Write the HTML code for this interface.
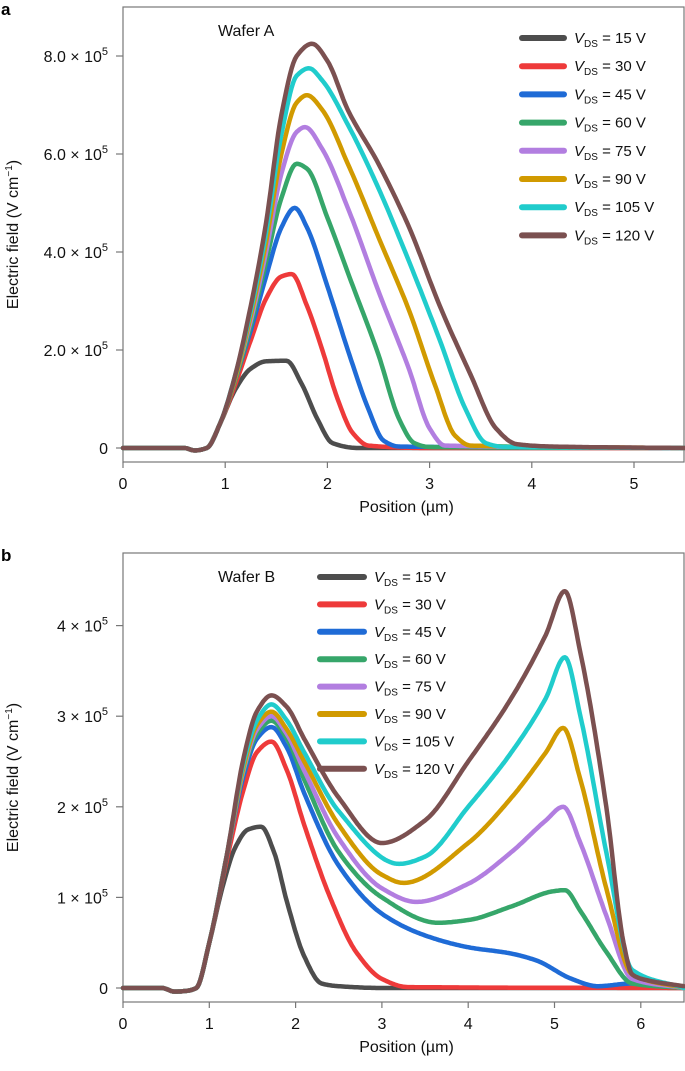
<!DOCTYPE html>
<html><head><meta charset="utf-8">
<style>
body{margin:0;background:#fff;}
svg{display:block;font-family:"Liberation Sans",Arial,sans-serif;}
</style></head>
<body>
<svg id="svg" width="685" height="1071" viewBox="0 0 685 1071" xmlns="http://www.w3.org/2000/svg"></svg>
<script>
const seriesLabels = ["15","30","45","60","75","90","105","120"];
const colors = ["#4d4d4d","#ee3a3a","#1f6bd6","#36a66a","#b27ee0","#d19a00","#20cccc","#7b5050"];
// Panel A data: [x µm, E (1e5 V/cm)]
const A15 = [[0,0],[0.6,0],[0.7,-0.05],[0.82,0],[0.95,0.5],[1.1,1.2],[1.25,1.62],[1.4,1.77],[1.6,1.78],[1.75,1.3],[1.9,0.6],[2.05,0.1],[2.3,0],[5.5,0]];
const A30 = [[0,0],[0.6,0],[0.7,-0.05],[0.82,0],[0.95,0.5],[1.1,1.3],[1.25,2.2],[1.4,3.05],[1.55,3.5],[1.65,3.55],[1.8,2.9],[1.95,2.0],[2.1,1.0],[2.25,0.3],[2.4,0.05],[3,0],[5.5,0]];
const A45 = [[0,0],[0.6,0],[0.7,-0.05],[0.82,0],[0.95,0.5],[1.1,1.4],[1.25,2.4],[1.4,3.5],[1.55,4.5],[1.68,4.9],[1.8,4.5],[2.0,3.3],[2.2,2.0],[2.4,0.8],[2.55,0.15],[2.7,0.03],[5.5,0]];
const A60 = [[0,0],[0.6,0],[0.7,-0.05],[0.82,0],[0.95,0.5],[1.1,1.4],[1.25,2.5],[1.4,3.8],[1.55,5.1],[1.7,5.8],[1.8,5.7],[2.0,4.7],[2.25,3.3],[2.5,1.9],[2.7,0.6],[2.85,0.1],[3.0,0.02],[5.5,0]];
const A75 = [[0,0],[0.6,0],[0.7,-0.05],[0.82,0],[0.95,0.5],[1.1,1.45],[1.25,2.6],[1.4,4.0],[1.55,5.6],[1.7,6.45],[1.78,6.55],[1.95,6.1],[2.2,4.9],[2.5,3.2],[2.8,1.6],[3.0,0.4],[3.15,0.05],[5.5,0]];
const A90 = [[0,0],[0.6,0],[0.7,-0.05],[0.82,0],[0.95,0.5],[1.1,1.45],[1.25,2.7],[1.4,4.2],[1.55,6.0],[1.7,7.05],[1.8,7.2],[1.95,6.9],[2.2,5.8],[2.5,4.3],[2.8,2.8],[3.05,1.3],[3.25,0.25],[3.4,0.05],[5.5,0]];
const A105 = [[0,0],[0.6,0],[0.7,-0.05],[0.82,0],[0.95,0.5],[1.1,1.5],[1.25,2.8],[1.4,4.4],[1.55,6.4],[1.7,7.6],[1.82,7.75],[1.95,7.5],[2.2,6.6],[2.5,5.3],[2.8,3.8],[3.1,2.2],[3.35,0.8],[3.55,0.1],[3.7,0.03],[5.5,0]];
const A120 = [[0,0],[0.6,0],[0.7,-0.05],[0.82,0],[0.95,0.5],[1.1,1.5],[1.25,2.9],[1.4,4.6],[1.55,6.8],[1.7,8.0],[1.85,8.25],[2.0,7.9],[2.2,6.9],[2.5,5.8],[2.8,4.5],[3.1,2.9],[3.4,1.5],[3.65,0.4],[3.85,0.08],[4.2,0.03],[5.5,0]];
// Panel B data
const B15 = [[0,0],[0.45,0],[0.6,-0.04],[0.75,-0.03],[0.85,0],[1.0,0.5],[1.15,1.1],[1.3,1.55],[1.45,1.75],[1.6,1.78],[1.75,1.5],[1.9,0.95],[2.1,0.35],[2.3,0.05],[2.5,0.02],[3,0],[6.5,0]];
const B30 = [[0,0],[0.45,0],[0.6,-0.04],[0.75,-0.03],[0.85,0],[1.0,0.5],[1.2,1.4],[1.4,2.2],[1.55,2.6],[1.72,2.72],[1.9,2.4],[2.1,1.8],[2.4,1.0],[2.7,0.4],[3.0,0.1],[3.3,0.01],[6.5,0]];
const B45 = [[0,0],[0.45,0],[0.6,-0.04],[0.75,-0.03],[0.85,0],[1.0,0.5],[1.2,1.45],[1.4,2.35],[1.55,2.75],[1.72,2.88],[1.9,2.65],[2.1,2.15],[2.5,1.35],[3.0,0.82],[3.5,0.58],[4.0,0.45],[4.5,0.38],[4.8,0.3],[5.2,0.1],[5.5,0.02],[5.9,0.05],[6.5,0]];
const B60 = [[0,0],[0.45,0],[0.6,-0.04],[0.75,-0.03],[0.85,0],[1.0,0.5],[1.2,1.45],[1.4,2.4],[1.55,2.8],[1.72,2.95],[1.9,2.75],[2.1,2.3],[2.5,1.5],[3.0,1.0],[3.65,0.72],[4.0,0.75],[4.5,0.9],[5.0,1.07],[5.12,1.08],[5.3,0.85],[5.6,0.4],[5.9,0.05],[6.5,0]];
const B75 = [[0,0],[0.45,0],[0.6,-0.04],[0.75,-0.03],[0.85,0],[1.0,0.5],[1.2,1.45],[1.4,2.42],[1.55,2.85],[1.72,3.0],[1.9,2.8],[2.1,2.4],[2.5,1.65],[3.0,1.1],[3.4,0.95],[4.0,1.15],[4.5,1.5],[4.9,1.85],[5.1,2.0],[5.3,1.6],[5.6,0.8],[5.9,0.1],[6.5,0]];
const B90 = [[0,0],[0.45,0],[0.6,-0.04],[0.75,-0.03],[0.85,0],[1.0,0.5],[1.2,1.45],[1.4,2.45],[1.55,2.9],[1.72,3.05],[1.9,2.85],[2.1,2.5],[2.5,1.8],[3.0,1.25],[3.25,1.16],[4.0,1.6],[4.5,2.1],[4.9,2.6],[5.1,2.87],[5.3,2.3],[5.6,1.1],[5.9,0.15],[6.5,0]];
const B105 = [[0,0],[0.45,0],[0.6,-0.04],[0.75,-0.03],[0.85,0],[1.0,0.5],[1.2,1.45],[1.4,2.5],[1.55,2.95],[1.72,3.13],[1.9,2.95],[2.1,2.6],[2.5,1.95],[3.2,1.37],[3.5,1.45],[4.0,2.0],[4.5,2.6],[4.9,3.2],[5.12,3.65],[5.3,3.0],[5.6,1.5],[5.9,0.2],[6.5,0]];
const B120 = [[0,0],[0.45,0],[0.6,-0.04],[0.75,-0.03],[0.85,0],[1.0,0.5],[1.2,1.45],[1.4,2.55],[1.55,3.05],[1.72,3.23],[1.9,3.1],[2.1,2.75],[2.5,2.1],[3.0,1.6],[3.5,1.85],[4.0,2.5],[4.5,3.2],[4.9,3.9],[5.12,4.38],[5.3,3.7],[5.6,2.0],[5.8,0.5],[5.9,0.15],[6.1,0.08],[6.5,0.02]];
const seriesA = [A15,A30,A45,A60,A75,A90,A105,A120];
const seriesB = [B15,B30,B45,B60,B75,B90,B105,B120];
const xTicksA = [0,1,2,3,4,5];
const yTicksA = [0,2,4,6,8];
const yTickLabelsA = ["0","2.0","4.0","6.0","8.0"];
const xTicksB = [0,1,2,3,4,5,6];
const yTicksB = [0,1,2,3,4];
const yTickLabelsB = ["0","1","2","3","4"];

const NS="http://www.w3.org/2000/svg";
const svg=document.getElementById('svg');
function mk(tag,attrs,parent){const e=document.createElementNS(NS,tag);for(const k in attrs)e.setAttribute(k,attrs[k]);(parent||svg).appendChild(e);return e;}
// monotone cubic (Fritsch-Carlson) sampled densely
function monotone(pts){
  const n=pts.length,xs=pts.map(p=>p[0]),ys=pts.map(p=>p[1]);
  const d=[],m=[];
  for(let i=0;i<n-1;i++)d.push((ys[i+1]-ys[i])/(xs[i+1]-xs[i]));
  m[0]=d[0];m[n-1]=d[n-2];
  for(let i=1;i<n-1;i++){
    if(d[i-1]*d[i]<=0)m[i]=0;
    else{const h0=xs[i]-xs[i-1],h1=xs[i+1]-xs[i];const w1=2*h1+h0,w2=h1+2*h0;m[i]=(w1+w2)/(w1/d[i-1]+w2/d[i]);}
  }
  const out=[];
  for(let i=0;i<n-1;i++){
    const h=xs[i+1]-xs[i];const steps=Math.max(4,Math.ceil(h*60));
    for(let k=0;k<steps;k++){
      const t=k/steps,t2=t*t,t3=t2*t;
      const y=(2*t3-3*t2+1)*ys[i]+(t3-2*t2+t)*h*m[i]+(-2*t3+3*t2)*ys[i+1]+(t3-t2)*h*m[i+1];
      out.push([xs[i]+t*h,y]);
    }
  }
  out.push(pts[n-1]);
  return out;
}
function panel(cfg){
  const g=mk('g',{});
  
  
  const X=v=>cfg.x0+cfg.xs*v, Y=v=>cfg.y0-cfg.ys*v;
  const lab=mk('text',{x:1,y:cfg.top+8,'font-size':17,'font-weight':'bold',fill:'#000'},g);lab.textContent=cfg.letter;
  
  const fr=mk('rect',{x:cfg.left,y:cfg.top,width:cfg.right-cfg.left,height:cfg.bottom-cfg.top,fill:'none',stroke:'#777','stroke-width':1.2},g);
  
  cfg.xt.forEach(t=>{
    const tk=mk('line',{x1:X(t),x2:X(t),y1:cfg.bottom,y2:cfg.bottom+6,stroke:'#777','stroke-width':1.2},g);
    
    const tx=mk('text',{x:X(t),y:cfg.bottom+27,'text-anchor':'middle','font-size':16,fill:'#111'},g);tx.textContent=t;
    
  });
  cfg.yt.forEach((t,i)=>{
    const tk=mk('line',{x1:cfg.left-7,x2:cfg.left,y1:Y(t),y2:Y(t),stroke:'#777','stroke-width':1.2},g);
    
    const tx=mk('text',{x:cfg.left-15,y:Y(t)+6,'text-anchor':'end','font-size':16,fill:'#111'},g);
    if(t===0){tx.textContent='0';}else{
      tx.textContent=cfg.yl[i]+' \u00d7 10';
      const s=mk('tspan',{dy:-7,'font-size':11},tx);s.textContent='5';
    }
    
  });
  const xt=mk('text',{x:(cfg.left+cfg.right)/2+3,y:cfg.bottom+50,'text-anchor':'middle','font-size':16,fill:'#111'},g);
  xt.textContent='Position (\u00b5m)';
  const cy=(cfg.top+cfg.bottom)/2;
  const yt=mk('text',{x:0,y:0,transform:`translate(18,${cy}) rotate(-90)`,'text-anchor':'middle','font-size':16,fill:'#111'},g);
  yt.textContent='Electric field (V cm';const sp=mk('tspan',{dy:-6,'font-size':10},yt);sp.textContent='\u22121';const sp2=mk('tspan',{dy:6},yt);sp2.textContent=')';
  
  const wt=mk('text',{x:cfg.wx,y:cfg.wy,'font-size':16,fill:'#111'},g);wt.textContent=cfg.wafer;
  
  cfg.series.forEach((s,i)=>{
    const pts=monotone(s).map(q=>X(q[0]).toFixed(1)+','+Y(q[1]).toFixed(1)).join(' ');
    const p=mk('polyline',{points:pts,fill:'none',stroke:colors[i],'stroke-width':4.5,'stroke-linejoin':'round','stroke-linecap':'round'},g);
    
  });
  seriesLabels.forEach((l,i)=>{
    const y=cfg.ly+i*cfg.ld;
    const ln=mk('line',{x1:cfg.lx,x2:cfg.lx+cfg.lw,y1:y,y2:y,stroke:colors[i],'stroke-width':6,'stroke-linecap':'round'},g);
    
    const t=mk('text',{x:cfg.lx+cfg.lw+10,y:y+5,'font-size':15,fill:'#111'},g);
    const v=mk('tspan',{'font-style':'italic'},t);v.textContent='V';
    const d=mk('tspan',{dy:4,'font-size':10},t);d.textContent='DS';
    const r=mk('tspan',{dy:-4},t);r.textContent=' = '+l+' V';
    
  });
}
panel({name:'panel-a',letter:'a',left:123,right:684,top:7,bottom:462,x0:123,xs:102.2,y0:448,ys:49,
  xt:xTicksA,yt:yTicksA,yl:yTickLabelsA,series:seriesA,wafer:'Wafer A',wx:218,wy:36,lx:522,lw:42,ly:38,ld:28.2});
panel({name:'panel-b',letter:'b',left:123,right:684,top:553,bottom:1002,x0:123,xs:86.3,y0:988,ys:90.6,
  xt:xTicksB,yt:yTicksB,yl:yTickLabelsB,series:seriesB,wafer:'Wafer B',wx:218,wy:582,lx:320,lw:44,ly:577,ld:27.4});
</script>
</body></html>
